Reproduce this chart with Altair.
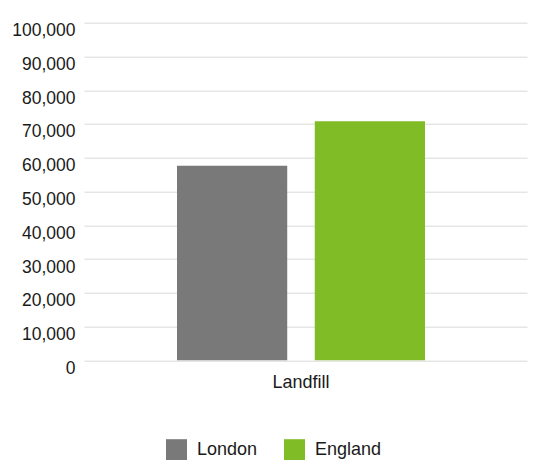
import altair as alt
import pandas as pd

categories = ["Landfill", "Landfill"]
series = ["London", "England"]
values = [57600, 70800]
colors = ["#797979", "#7fbc25"]
y_ticks = list(range(0, 100001, 10000))

df = pd.DataFrame({"category": categories, "series": series, "value": values})

FONT = "Liberation Sans"

chart = alt.Chart(df).mark_bar().encode(
    x=alt.X("category:N", title=None,
            scale=alt.Scale(paddingInner=0, paddingOuter=0),
            axis=alt.Axis(labelAngle=0, ticks=False, tickSize=0, domain=False,
                          labelFontSize=18, labelFont=FONT, labelColor="#1a1a1a",
                          labelBaseline="middle", labelPadding=22, labelOffset=-4.5)),
    xOffset=alt.XOffset("series:N", sort=series,
                        scale=alt.Scale(range=[93, 341], paddingInner=0.2, paddingOuter=0)),
    y=alt.Y("value:Q", title=None,
            scale=alt.Scale(domain=[0, 100000], nice=False),
            axis=alt.Axis(values=y_ticks, format=",.0f", ticks=False, tickSize=0, domain=False,
                          gridColor="#d9d9d9", gridWidth=1,
                          labelFontSize=17.5, labelFont=FONT, labelColor="#1a1a1a",
                          labelBaseline="middle", labelOffset=8, labelPadding=9)),
    color=alt.Color("series:N", sort=series,
                    scale=alt.Scale(domain=series, range=colors),
                    legend=alt.Legend(title=None, orient="none", direction="horizontal",
                                      legendX=82, legendY=416.5,
                                      symbolType="square", symbolSize=441,
                                      symbolStrokeWidth=0, symbolOpacity=1,
                                      labelFontSize=18, labelFont=FONT, labelColor="#1a1a1a",
                                      labelOffset=10, columnPadding=26, padding=0)),
).properties(
    width=443,
    height=337.6,
    background="white",
    autosize=alt.AutoSizeParams(type="none"),
    padding={"left": 76, "top": 14.7, "right": 15, "bottom": 100},
).configure_view(strokeWidth=0)

chart.save("out.html", embed_options={"renderer": "svg", "actions": False})
